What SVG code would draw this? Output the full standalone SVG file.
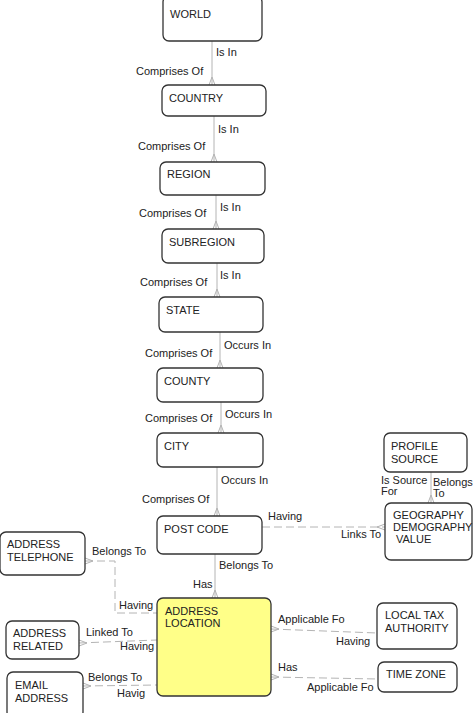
<svg xmlns="http://www.w3.org/2000/svg" width="474" height="713" viewBox="0 0 474 713">
<style>
.box{fill:#fff;stroke:#333;stroke-width:1.3}
.yel{fill:#ffff88;stroke:#333;stroke-width:1.3}
text{font-family:"Liberation Sans",Arial,sans-serif;font-size:11px;fill:#222}
.ln{fill:none;stroke:#b4b4b4;stroke-width:1}
.dl{fill:none;stroke:#b4b4b4;stroke-width:1;stroke-dasharray:8,4}
.cf{fill:none;stroke:#b4b4b4;stroke-width:1}
</style>
<rect width="474" height="713" fill="#fff"/>
<g id="connectors">
<line class="ln" x1="212" y1="41" x2="212" y2="85"/>
<path class="cf" d="M212,77 L209,85 M212,77 L215,85"/>
<line class="ln" x1="214" y1="116" x2="214" y2="162"/>
<path class="cf" d="M214,154 L211,162 M214,154 L217,162"/>
<line class="ln" x1="216" y1="195" x2="216" y2="229"/>
<path class="cf" d="M216,221 L213,229 M216,221 L219,229"/>
<line class="ln" x1="217" y1="263" x2="217" y2="297"/>
<path class="cf" d="M217,289 L214,297 M217,289 L220,297"/>
<line class="ln" x1="220" y1="332" x2="220" y2="368"/>
<path class="cf" d="M220,360 L217,368 M220,360 L223,368"/>
<line class="ln" x1="221" y1="402" x2="221" y2="433"/>
<path class="cf" d="M221,425 L218,433 M221,425 L224,433"/>
<line class="ln" x1="217" y1="467" x2="217" y2="516"/>
<path class="cf" d="M217,508 L214,516 M217,508 L220,516"/>
<line class="ln" x1="215" y1="554" x2="215" y2="598"/>
<path class="cf" d="M215,590 L212,598 M215,590 L218,598"/>
<line class="dl" x1="262" y1="527" x2="385" y2="527"/>
<path class="cf" d="M377,527 L385,524 M377,527 L385,530"/>
<line class="ln" x1="431" y1="472" x2="431" y2="503"/>
<path class="cf" d="M431,495 L428,503 M431,495 L434,503"/>
<path class="dl" d="M85,561 L115,561 L115,613 L157,613"/>
<path class="cf" d="M93,561 L85,558 M93,561 L85,564"/>
<line class="dl" x1="79" y1="643" x2="157" y2="640"/>
<path class="cf" d="M87,643 L79,640 M87,643 L79,646"/>
<line class="dl" x1="83" y1="686" x2="157" y2="685"/>
<path class="cf" d="M91,686 L83,683 M91,686 L83,689"/>
<line class="dl" x1="271" y1="629" x2="377" y2="633"/>
<path class="cf" d="M279,629 L271,626 M279,629 L271,632"/>
<line class="dl" x1="271" y1="677" x2="378" y2="679"/>
<path class="cf" d="M279,677 L271,674 M279,677 L271,680"/>
</g>
<g id="labels">
<text x="216" y="56">Is In</text>
<text x="136" y="75">Comprises Of</text>
<text x="218" y="133">Is In</text>
<text x="138" y="150">Comprises Of</text>
<text x="220" y="211">Is In</text>
<text x="139" y="217">Comprises Of</text>
<text x="220" y="279">Is In</text>
<text x="140" y="286">Comprises Of</text>
<text x="224" y="349">Occurs In</text>
<text x="145" y="357">Comprises Of</text>
<text x="225" y="418">Occurs In</text>
<text x="145" y="422">Comprises Of</text>
<text x="221" y="484">Occurs In</text>
<text x="142" y="503">Comprises Of</text>
<text x="219" y="569">Belongs To</text>
<text x="193" y="588">Has</text>
<text x="268" y="520">Having</text>
<text x="341" y="538">Links To</text>
<text x="381" y="484">Is Source</text>
<text x="381" y="495">For</text>
<text x="433" y="486">Belongs</text>
<text x="433" y="497">To</text>
<text x="92" y="555">Belongs To</text>
<text x="119" y="609">Having</text>
<text x="86" y="636">Linked To</text>
<text x="120" y="650">Having</text>
<text x="88" y="681">Belongs To</text>
<text x="117" y="697">Havig</text>
<text x="278" y="623">Applicable Fo</text>
<text x="336" y="645">Having</text>
<text x="278" y="671">Has</text>
<text x="307" y="691">Applicable Fo</text>
</g>
<g id="world"><rect class="box" x="163" y="-4" width="99" height="45" rx="6"/><text x="170" y="18">WORLD</text></g>
<g id="country"><rect class="box" x="162" y="85" width="104" height="31" rx="6"/><text x="169" y="102">COUNTRY</text></g>
<g id="region"><rect class="box" x="160" y="162" width="105" height="33" rx="6"/><text x="167" y="178">REGION</text></g>
<g id="subregion"><rect class="box" x="162" y="229" width="102" height="34" rx="6"/><text x="169" y="246">SUBREGION</text></g>
<g id="state"><rect class="box" x="159" y="297" width="104" height="35" rx="6"/><text x="166" y="314">STATE</text></g>
<g id="county"><rect class="box" x="157" y="368" width="106" height="34" rx="6"/><text x="164" y="385">COUNTY</text></g>
<g id="city"><rect class="box" x="157" y="433" width="106" height="34" rx="6"/><text x="164" y="450">CITY</text></g>
<g id="postcode"><rect class="box" x="157" y="516" width="105" height="38" rx="6"/><text x="164" y="533">POST CODE</text></g>
<g id="profilesource"><rect class="box" x="384" y="433" width="83" height="39" rx="6"/><text x="391" y="450">PROFILE</text><text x="391" y="463">SOURCE</text></g>
<g id="geography"><rect class="box" x="385" y="503" width="87" height="57" rx="6"/><text x="393" y="519">GEOGRAPHY</text><text x="393" y="531">DEMOGRAPHY</text><text x="396" y="543">VALUE</text></g>
<g id="addresstelephone"><rect class="box" x="0" y="532" width="85" height="43" rx="6"/><text x="7" y="548">ADDRESS</text><text x="7" y="561">TELEPHONE</text></g>
<g id="addressrelated"><rect class="box" x="6" y="621" width="73" height="38" rx="6"/><text x="13" y="637">ADDRESS</text><text x="13" y="650">RELATED</text></g>
<g id="emailaddress"><rect class="box" x="7" y="672" width="76" height="46" rx="6"/><text x="15" y="689">EMAIL</text><text x="15" y="702">ADDRESS</text></g>
<g id="addresslocation"><rect class="yel" x="157" y="598" width="114" height="98" rx="6"/><text x="165" y="615">ADDRESS</text><text x="165" y="627">LOCATION</text></g>
<g id="localtax"><rect class="box" x="377" y="603" width="80" height="46" rx="6"/><text x="385" y="619">LOCAL TAX</text><text x="385" y="632">AUTHORITY</text></g>
<g id="timezone"><rect class="box" x="378" y="662" width="79" height="30" rx="6"/><text x="386" y="678">TIME ZONE</text></g>
</svg>
